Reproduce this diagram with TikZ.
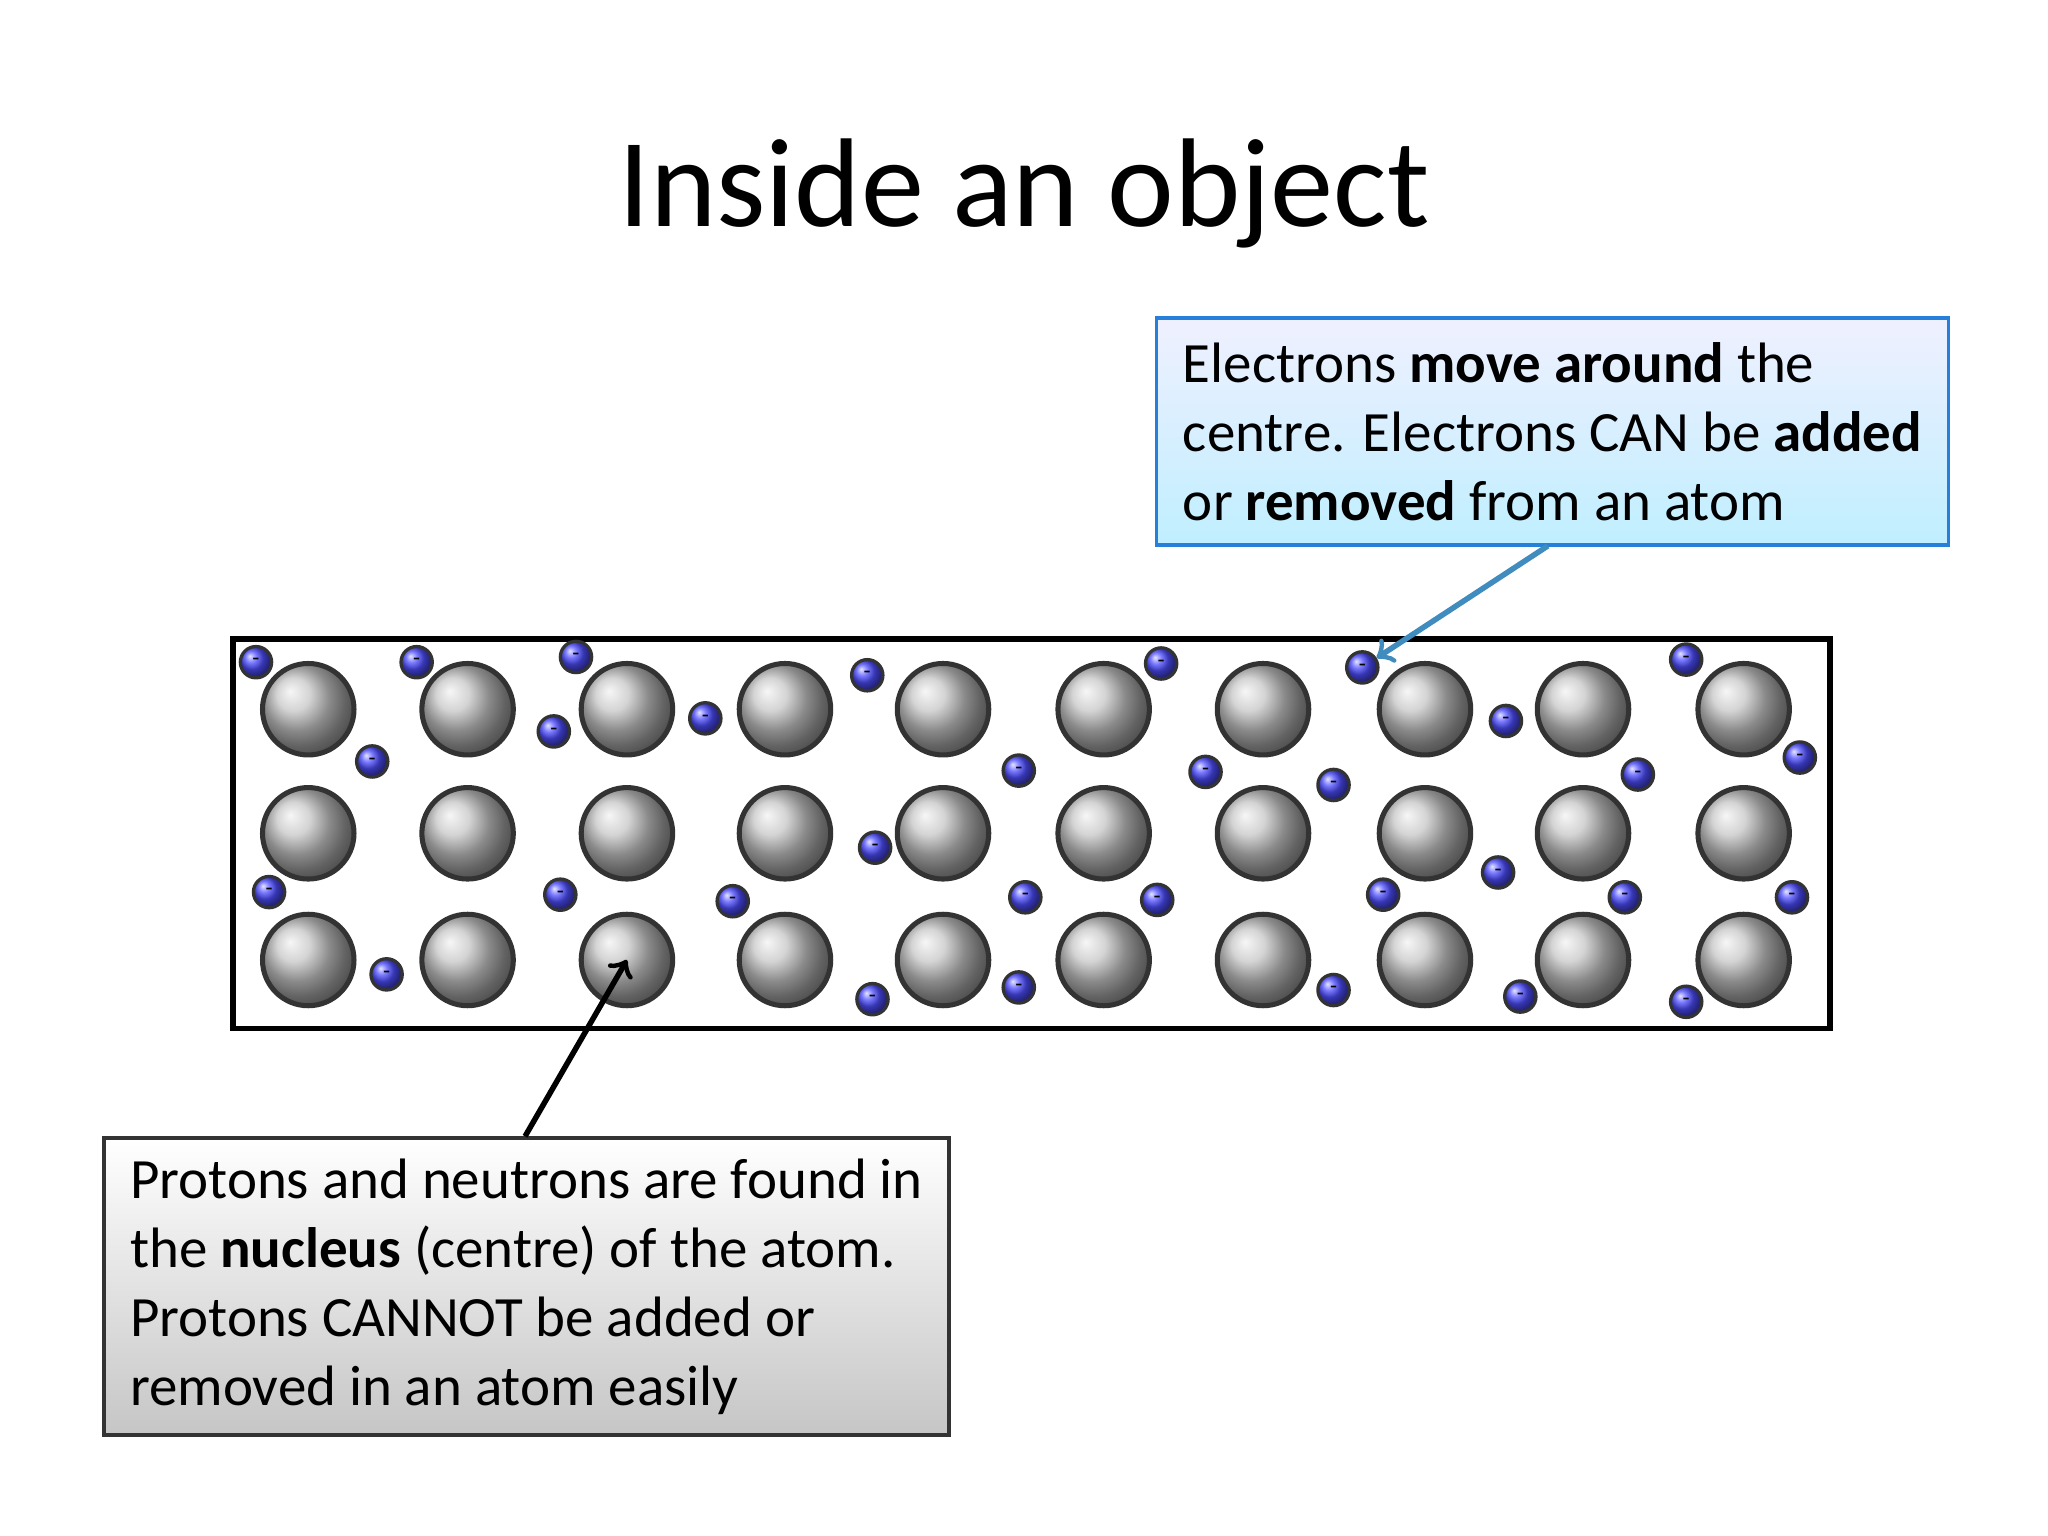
\documentclass[tikz,border=0pt]{standalone}
\usepackage{fontspec}
\setmainfont{Carlito}
\begin{document}
\begin{tikzpicture}[x=0.01cm,y=-0.01cm,
 nuc/.style={circle,draw=black!80,line width=1.1pt,minimum size=0.7cm,inner sep=0pt,ball color=gray!45,shading=ball},
 ele/.style={circle,draw=black!80,line width=0.7pt,minimum size=0.24cm,inner sep=0pt,ball color=blue!70,shading=ball,font=\fontsize{5}{5}\selectfont,text=black},
 box/.style={draw,line width=0.8pt,anchor=north west,inner xsep=0.17cm,inner ysep=0.1cm,align=left,font=\fontsize{12.4}{15}\selectfont}]
\useasboundingbox (0,0) rectangle (1568,1176);
\node[font=\fontsize{27.5}{28}\selectfont] (title) at (784,148) {Inside an object};
\node[draw,line width=1.3pt,minimum width=12.22cm,minimum height=2.98cm,anchor=north west,inner sep=0pt] (frame) at (176,487) {};
\foreach \x [count=\i] in {236,358,480,601,722,845,967,1091,1212,1335}
 \foreach \y [count=\j] in {543,638,735}
  \node[nuc] (n\i-\j) at (\x,\y) {};
\foreach \x/\y [count=\k] in {196/507,319/507,441/503,285/583,424/560,540/550,664/517,889/508,1043/511,1153/552,1291/505,1378/580,780/590,923/591,1021/601,1254/593,670/649,206/683,429/685,561/690,785/687,886/689,1059/685,1147/668,1244/687,1372/687,296/746,668/765,780/756,1021/758,1164/763,1291/767}
  \node[ele] (e\k) at (\x,\y) {-};
\node[box,draw=blue!50!cyan!70!gray,top color=blue!6,bottom color=blue!25!cyan!25,minimum width=6.06cm,minimum height=1.74cm] (eb) at (884,242)
 {Electrons \textbf{move around} the\\centre. Electrons CAN be \textbf{added}\\or \textbf{removed} from an atom};
\node[box,draw=black!80,top color=white,bottom color=gray!45,minimum width=6.47cm,minimum height=2.27cm] (pb) at (78,870)
 {Protons and neutrons are found in\\the \textbf{nucleus} (centre) of the atom.\\Protons CANNOT be added or\\removed in an atom easily};
\coordinate (ea) at (1185,418);
\coordinate (pa) at (402,870);
\draw[->,line width=1.2pt,blue!40!cyan!50!gray] (ea) -- (e9);
\draw[->,line width=1.2pt] (pa) -- (n3-3.center);
\end{tikzpicture}
\end{document}
